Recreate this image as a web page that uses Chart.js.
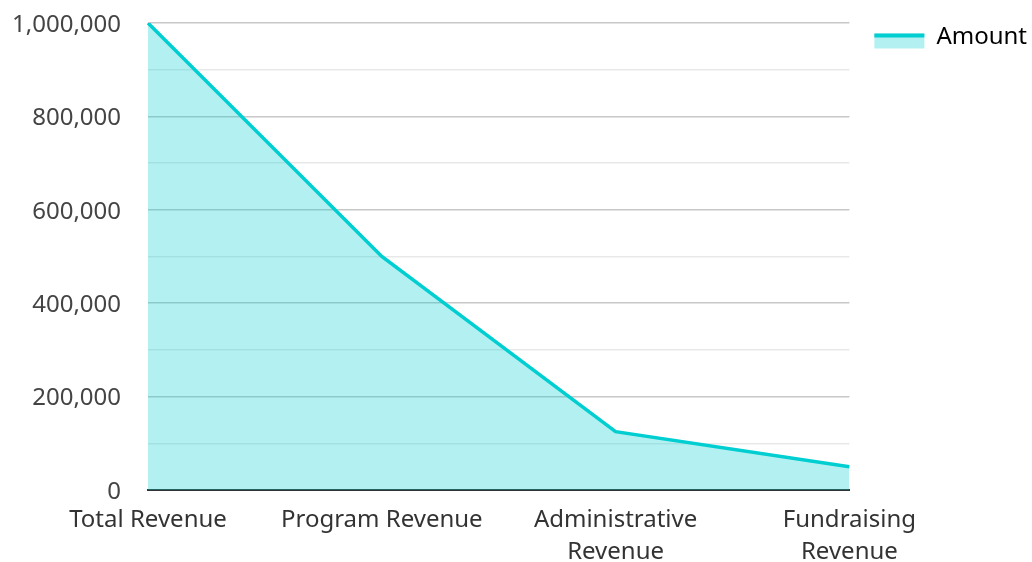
<!DOCTYPE html>
<html lang="en">
<head>
    <meta charset="UTF-8">
    <title>Revenue Breakdown</title>
    <script src="https://cdn.jsdelivr.net/npm/chart.js"></script>
    <style>
        html, body {
            margin: 0;
            padding: 0;
            background: #ffffff;
        }
        .chart-container {
            width: 1032px;
            height: 562px;
        }
    </style>
</head>
<body>
    <div class="chart-container">
        <canvas id="revenueChart"></canvas>
    </div>

    <script>
        // Chart data
        const categories = ["Total Revenue", "Program Revenue", ["Administrative", "Revenue"], ["Fundraising", "Revenue"]];
        const amounts = [1000000, 500000, 125000, 50000];
        const seriesName = "Amount";

        const lineColor = "#00ced1";
        const fillColor = "rgba(0, 206, 209, 0.3)";

        Chart.defaults.font.family = "'Noto Sans', sans-serif";
        Chart.defaults.font.size = 24;
        Chart.defaults.color = "#333333";

        // legend swatch: light fill with a teal line on top
        const legendSwatch = {
            id: "legendSwatch",
            afterDraw(chart) {
                const boxes = chart.legend && chart.legend.legendHitBoxes;
                if (!boxes || !boxes.length) return;
                const b = boxes[0];
                const ctx = chart.ctx;
                const w = 50, h = 15;
                const top = b.top + (b.height - h) / 2 + 4;
                ctx.save();
                ctx.fillStyle = fillColor;
                ctx.fillRect(b.left, top, w, h);
                ctx.fillStyle = lineColor;
                ctx.fillRect(b.left, top, w, 4);
                ctx.restore();
            }
        };

        new Chart(document.getElementById("revenueChart"), {
            type: "line",
            data: {
                labels: categories,
                datasets: [{
                    label: seriesName,
                    data: amounts,
                    borderColor: lineColor,
                    backgroundColor: fillColor,
                    borderWidth: 3.5,
                    fill: "origin",
                    tension: 0,
                    pointRadius: 0,
                    pointHoverRadius: 0
                }]
            },
            options: {
                responsive: true,
                maintainAspectRatio: false,
                animation: false,
                layout: {
                    padding: { top: 0, right: -5, left: 0, bottom: 0 }
                },
                plugins: {
                    legend: {
                        position: "right",
                        align: "start",
                        labels: {
                            boxWidth: 50,
                            boxHeight: 15,
                            padding: 25,
                            color: "#222222",
                            generateLabels(chart) {
                                const ds = chart.data.datasets[0];
                                return [{
                                    text: ds.label,
                                    fillStyle: "rgba(0,0,0,0)",
                                    strokeStyle: "rgba(0,0,0,0)",
                                    lineWidth: 0,
                                    datasetIndex: 0,
                                    hidden: false
                                }];
                            }
                        }
                    },
                    tooltip: { enabled: false }
                },
                scales: {
                    x: {
                        grid: { display: false, drawTicks: false },
                        border: { display: true, color: "#333333", width: 2 },
                        ticks: {
                            padding: 14, maxRotation: 0, autoSkip: false, color: "#333333",
                            font: { lineHeight: 1.35 }
                        },
                        afterFit(scale) {
                            scale.height = 72;
                        }
                    },
                    y: {
                        min: 0,
                        max: 1000000,
                        border: { display: false },
                        grid: {
                            drawTicks: false,
                            color: ctx => (ctx.tick && ctx.tick.value % 200000 === 0) ? "rgba(0,0,0,0.22)" : "rgba(0,0,0,0.09)",
                            lineWidth: 1.5
                        },
                        ticks: {
                            stepSize: 100000,
                            padding: 27,
                            labelOffset: 2,
                            color: "#444444",
                            callback: v => v % 200000 === 0 ? v.toLocaleString("en-US") : ""
                        },
                        afterFit(scale) {
                            scale.width = 148;
                            scale.paddingTop = 23;
                            scale.paddingBottom = 10;
                        }
                    }
                }
            },
            plugins: [legendSwatch]
        });
    </script>
</body>
</html>
